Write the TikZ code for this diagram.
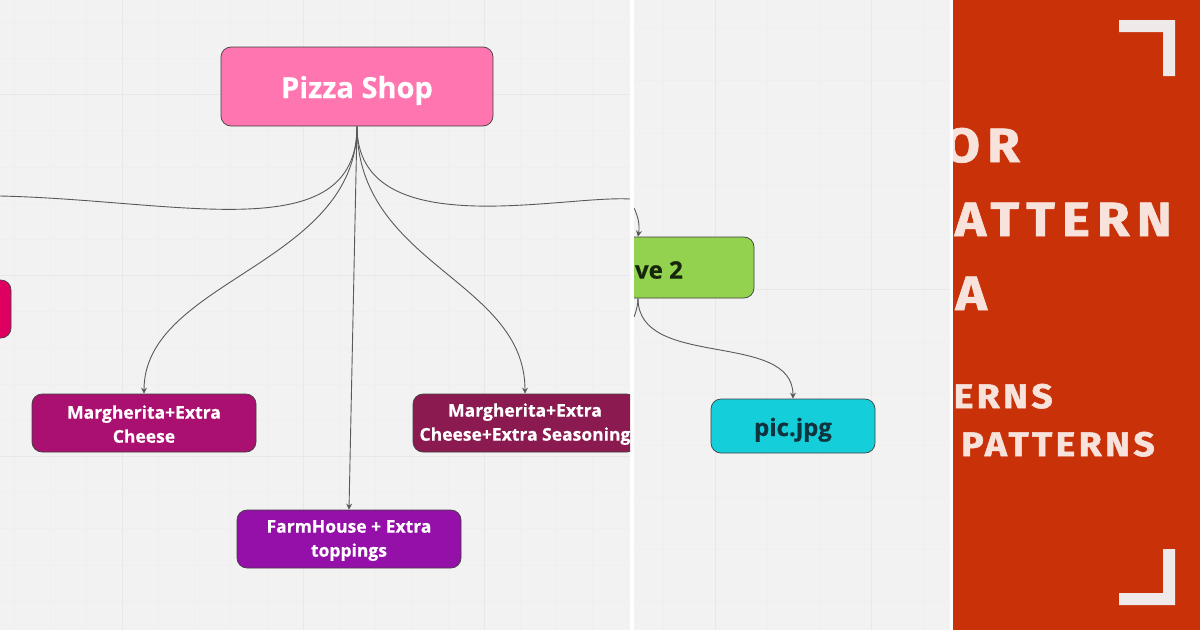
\documentclass[tikz,border=0pt]{standalone}
\usepackage{fontspec}
\usetikzlibrary{arrows.meta}
\setmainfont{Open Sans}[BoldFeatures={FakeBold=0.5}]
\newfontfamily\bannerfont[LetterSpace=15,FakeStretch=1.1,BoldFeatures={FakeBold=1.5}]{Fira Sans}
\newfontfamily\bannersmall[LetterSpace=10,FakeStretch=1.1,BoldFeatures={FakeBold=1.5}]{Fira Sans}
\definecolor{paper}{HTML}{F2F2F2}
\definecolor{minorline}{HTML}{EFEFEF}
\definecolor{majorline}{HTML}{E8E8E8}
\definecolor{bannerred}{HTML}{C93208}
\definecolor{bannertext}{HTML}{F8E2DC}
\definecolor{cornerwhite}{HTML}{F0E9E9}
\definecolor{pizzapink}{HTML}{FF75B0}
\definecolor{hotpink}{HTML}{DD0060}
\definecolor{cheesepurple}{HTML}{AA1070}
\definecolor{seasonwine}{HTML}{8B1A50}
\definecolor{farmviolet}{HTML}{9410A8}
\definecolor{savegreen}{HTML}{92D24E}
\definecolor{savetext}{HTML}{16260C}
\definecolor{piccyan}{HTML}{14CFDA}
\definecolor{pictext}{HTML}{0F3440}

\begin{document}
\begin{tikzpicture}[x=1pt,y=-1pt,
    box/.style={draw=black!75,line width=0.7pt,rounded corners=10pt,align=center,inner sep=0pt,font=\bfseries},
    smalllabel/.style={box,text=white,minimum width=224pt,minimum height=58pt,text height=39.5pt,font=\fontsize{17.5}{24}\selectfont\bfseries},
    link/.style={draw=black!65,line width=0.9pt},
    arrowlink/.style={link,-{Stealth[length=6pt,width=6pt]}},
    minorgrid/.style={draw=minorline,line width=0.8pt},
    majorgrid/.style={draw=majorline,line width=0.8pt},
    bannerline/.style={text=bannertext,inner sep=0pt,anchor=base east}]

  \useasboundingbox (0,0) rectangle (1200,630);
  \fill[white] (0,0) rectangle (1200,630);

  \begin{scope}
    \clip (0,0) rectangle (630,630);
    \fill[paper] (0,0) rectangle (630,630);
    \foreach \x in {14,50,86,158,194,230,267,339,375,411,448,520,556,592}
      \draw[minorgrid] (\x,0) -- (\x,630);
    \foreach \y in {22,58,130,167,203,239,311,348,384,420,492,528,565,601}
      \draw[minorgrid] (0,\y) -- (630,\y);
    \foreach \x in {122,303,484}
      \draw[majorgrid] (\x,0) -- (\x,630);
    \foreach \y in {94,275,456}
      \draw[majorgrid] (0,\y) -- (630,\y);

    \node[box,fill=pizzapink,text=white,minimum width=272pt,minimum height=79pt,text height=23pt,text depth=0pt,font=\fontsize{29}{34}\selectfont\bfseries] (shop) at (357,86.5) {Pizza Shop};
    \node[box,fill=hotpink,minimum width=224pt,minimum height=58pt] (hidden) at (-101,309) {};
    \node[smalllabel,fill=cheesepurple] (cheese) at (144,423) {Margherita+Extra\\Cheese};
    \node[smalllabel,fill=seasonwine] (season) at (525,423) {Margherita+Extra\\Cheese+Extra Seasoning};
    \node[smalllabel,fill=farmviolet] (farm) at (349,539) {FarmHouse + Extra\\toppings};

    \coordinate (leftend) at (0,196);
    \coordinate (rightend) at (630,199);
    \draw[link] (shop.south) .. controls (357,250) and (180,200) .. (leftend);
    \draw[link] (shop.south) .. controls (357,245) and (560,195) .. (rightend);
    \draw[arrowlink] (shop.south) .. controls (357,265) and (144,280) .. (cheese.north);
    \draw[arrowlink] (shop.south) .. controls (357,265) and (525,280) .. (season.north);
    \draw[arrowlink] (shop.south) -- (farm.north);
  \end{scope}

  \begin{scope}
    \clip (634,0) rectangle (950,630);
    \fill[paper] (634,0) rectangle (950,630);
    \foreach \x in {663,767,819,923}
      \draw[minorgrid] (\x,0) -- (\x,630);
    \foreach \y in {28,80,133,185,237,342,393,445,497,549,601}
      \draw[minorgrid] (634,\y) -- (950,\y);
    \foreach \x in {715,871}
      \draw[majorgrid] (\x,0) -- (\x,630);
    \draw[majorgrid] (634,289) -- (950,289);

    \node[box,fill=savegreen,minimum width=232pt,minimum height=61pt] (savebox) at (638,267.5) {};
    \node[text=savetext,inner sep=0pt,anchor=east,font=\fontsize{24}{28}\selectfont\bfseries] (savelabel) at (683,270) {ve 2};
    \node[box,fill=piccyan,text=pictext,minimum width=164pt,minimum height=54pt,text height=20pt,text depth=0pt,font=\fontsize{24}{28}\selectfont\bfseries] (picbox) at (793,426) {pic.jpg};

    \coordinate (incoming) at (634,208);
    \coordinate (outgoing) at (634,317);
    \draw[arrowlink] (incoming) .. controls (638,216) and (640,225) .. (savebox.north);
    \draw[link] (savebox.south) .. controls (638,305) and (636,312) .. (outgoing);
    \draw[arrowlink] (savebox.south) .. controls (638,370) and (793,330) .. (picbox.north);
  \end{scope}

  \begin{scope}
    \clip (953,0) rectangle (1200,630);
    \fill[bannerred] (953,0) rectangle (1200,630);
    \node[bannerline,font=\bannerfont\fontsize{48}{52}\selectfont\bfseries] (lineone) at (1020,162) {OR};
    \node[bannerline,font=\bannerfont\fontsize{48}{52}\selectfont\bfseries] (linetwo) at (1172,236) {ATTERN};
    \node[bannerline,font=\bannerfont\fontsize{48}{52}\selectfont\bfseries] (linethree) at (987,310) {A};
    \node[bannerline,font=\bannersmall\fontsize{34}{38}\selectfont\bfseries] (linefour) at (1053,408) {ERNS};
    \node[bannerline,font=\bannersmall\fontsize{34}{38}\selectfont\bfseries] (linefive) at (1155,456) {PATTERNS};
    \fill[cornerwhite] (1119,20) -- (1175,20) -- (1175,76) -- (1163,76) -- (1163,32) -- (1119,32) -- cycle;
    \fill[cornerwhite] (1119,605) -- (1175,605) -- (1175,549) -- (1163,549) -- (1163,593) -- (1119,593) -- cycle;
  \end{scope}

\end{tikzpicture}
\end{document}
